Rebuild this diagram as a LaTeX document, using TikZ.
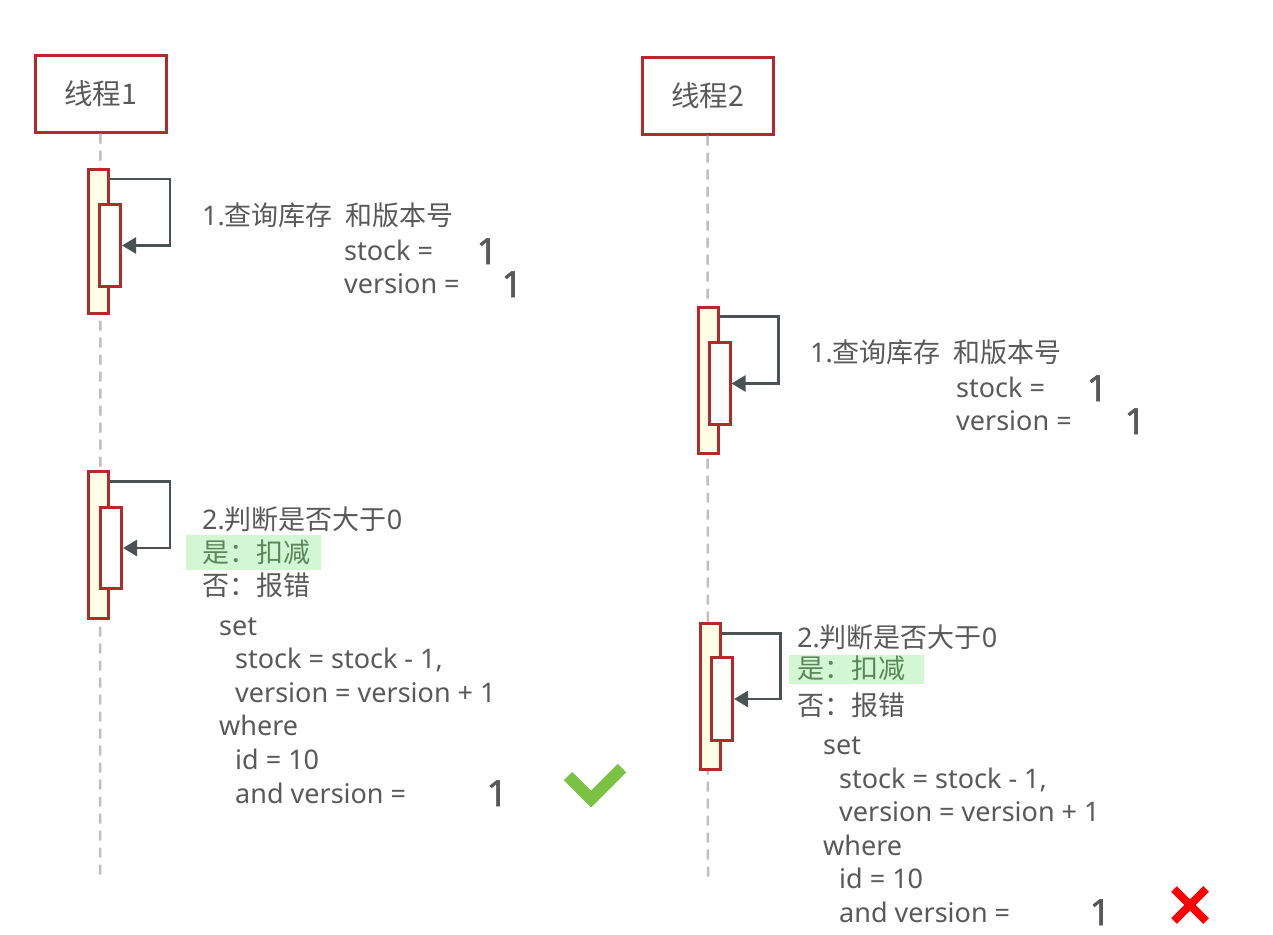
\documentclass[tikz,border=0pt]{standalone}
\usepackage{fontspec}
\setmainfont{Noto Sans}
\newfontfamily\cjk{Noto Sans CJK SC}
\newfontfamily\bignum{Noto Sans}[FakeBold=1.6]
\usepackage{tikz}
\usetikzlibrary{arrows.meta,positioning}
\definecolor{boxred}{HTML}{B22A2A}
\definecolor{txtgray}{HTML}{595959}
\definecolor{arrgray}{HTML}{4A5254}
\definecolor{lifegray}{HTML}{BFBFBF}
\definecolor{actyellow}{HTML}{FFFFE5}
\definecolor{hlgreen}{HTML}{D2F7D2}
\definecolor{hltext}{HTML}{5A865A}
\definecolor{okgreen}{HTML}{7CC242}
\definecolor{badred}{HTML}{FF0000}
\tikzset{
  thread/.style={draw=boxred, line width=3pt, minimum width=131pt, minimum height=76pt, inner sep=0pt, text=txtgray, font=\cjk\fontsize{28.5}{32}\selectfont},
  lifeline/.style={draw=lifegray, line width=2.5pt, dash pattern=on 10pt off 7pt},
  act/.style={draw=boxred, line width=3pt, fill=actyellow, minimum width=20pt, inner sep=0pt},
  subact/.style={act, fill=white, minimum width=21pt},
  selfmsg/.style={draw=arrgray, line width=2.5pt, -{Triangle[length=14pt,width=16pt]}},
  txt/.style={anchor=base west, inner sep=0pt, text=txtgray, font=\fontsize{27}{32}\selectfont},
  val/.style={anchor=base, inner sep=0pt, text=txtgray, font=\bignum\fontsize{36}{40}\selectfont},
  hl/.style={fill=hlgreen, minimum width=135pt, inner sep=0pt},
  mark/ok/.style={draw=okgreen, line width=12pt},
  mark/bad/.style={draw=badred, line width=8pt}
}
\begin{document}
\begin{tikzpicture}[x=1pt,y=-1pt]
  \useasboundingbox (0,0) rectangle (1273,934);
  % threads and lifelines
  \node[thread] (t1) at (100.5,94) {线程1};
  \node[thread] (t2) at (707.5,96) {线程2};
  \coordinate (e1) at (100,880);
  \coordinate (e2) at (708,882);
  \draw[lifeline] (t1.south) -- (e1);
  \draw[lifeline] (t2.south) -- (e2);

  % thread 1: query
  \node[act, minimum height=144pt] (a1o) at (98.5,241.5) {};
  \node[subact, minimum height=82pt] (a1i) at (110,245.5) {};
  \draw[selfmsg] ([yshift=-11pt]a1o.north east) -- ++(60pt,0) |- (a1i.east);
  \node[txt] (q1) at (202,225) {1.{\cjk 查询库存\hspace{0.45em}和版本号}};
  \node[txt] (s1) at (344,260) {stock =};
  \node[val] (s1v) at (487,264) {1};
  \node[txt] (v1) at (344,293) {version =};
  \node[val] (v1v) at (512,297) {1};

  % thread 1: update
  \node[act, minimum height=147pt] (b1o) at (98.5,545) {};
  \node[subact, minimum height=81pt] (b1i) at (111,548) {};
  \draw[selfmsg] ([yshift=-11.5pt]b1o.north east) -- ++(60pt,0) |- (b1i.east);
  \node[hl, minimum height=35pt] (h1) at (253.5,552.5) {};
  \node[txt] (j1) at (202,529) {2.{\cjk 判断是否大于}0};
  \node[txt, text=hltext] (y1) at (202,562) {\cjk 是：扣减};
  \node[txt] (n1) at (202,595) {\cjk 否：报错};
  \node[txt] (set1) at (219,635) {set};
  \node[txt] (st1) at (235,668) {stock = stock - 1,};
  \node[txt] (ve1) at (235,702) {version = version + 1};
  \node[txt] (wh1) at (219,735) {where};
  \node[txt] (id1) at (235,769) {id = 10};
  \node[txt] (av1) at (235,803) {and version =};
  \node[val] (av1v) at (497,806) {1};
  \draw[mark/ok] (568,776) -- (591,799) -- (622,768);

  % thread 2: query
  \node[act, minimum height=146pt] (a2o) at (708,380.5) {};
  \node[subact, minimum height=82pt] (a2i) at (719.5,383.5) {};
  \draw[selfmsg] ([yshift=-10.5pt]a2o.north east) -- ++(59pt,0) |- (a2i.east);
  \node[txt] (q2) at (810,362) {1.{\cjk 查询库存\hspace{0.45em}和版本号}};
  \node[txt] (s2) at (956,397) {stock =};
  \node[val] (s2v) at (1097,401) {1};
  \node[txt] (v2) at (956,430) {version =};
  \node[val] (v2v) at (1135,434) {1};

  % thread 2: update
  \node[act, minimum height=146pt] (b2o) at (710,696.5) {};
  \node[subact, minimum height=83pt] (b2i) at (722,699) {};
  \draw[selfmsg] ([yshift=-11.5pt]b2o.north east) -- ++(59pt,0) |- (b2i.east);
  \node[hl, minimum height=29pt] (h2) at (856.5,669.5) {};
  \node[txt] (j2) at (797,647) {2.{\cjk 判断是否大于}0};
  \node[txt, text=hltext] (y2) at (797,678) {\cjk 是：扣减};
  \node[txt] (n2) at (797,715) {\cjk 否：报错};
  \node[txt] (set2) at (823,754) {set};
  \node[txt] (st2) at (839,788) {stock = stock - 1,};
  \node[txt] (ve2) at (839,821) {version = version + 1};
  \node[txt] (wh2) at (823,855) {where};
  \node[txt] (id2) at (839,888) {id = 10};
  \node[txt] (av2) at (839,922) {and version =};
  \node[val] (av2v) at (1100,925) {1};
  \draw[mark/bad] (1174,889) -- (1206,921);
  \draw[mark/bad] (1206,889) -- (1174,921);
\end{tikzpicture}
\end{document}
